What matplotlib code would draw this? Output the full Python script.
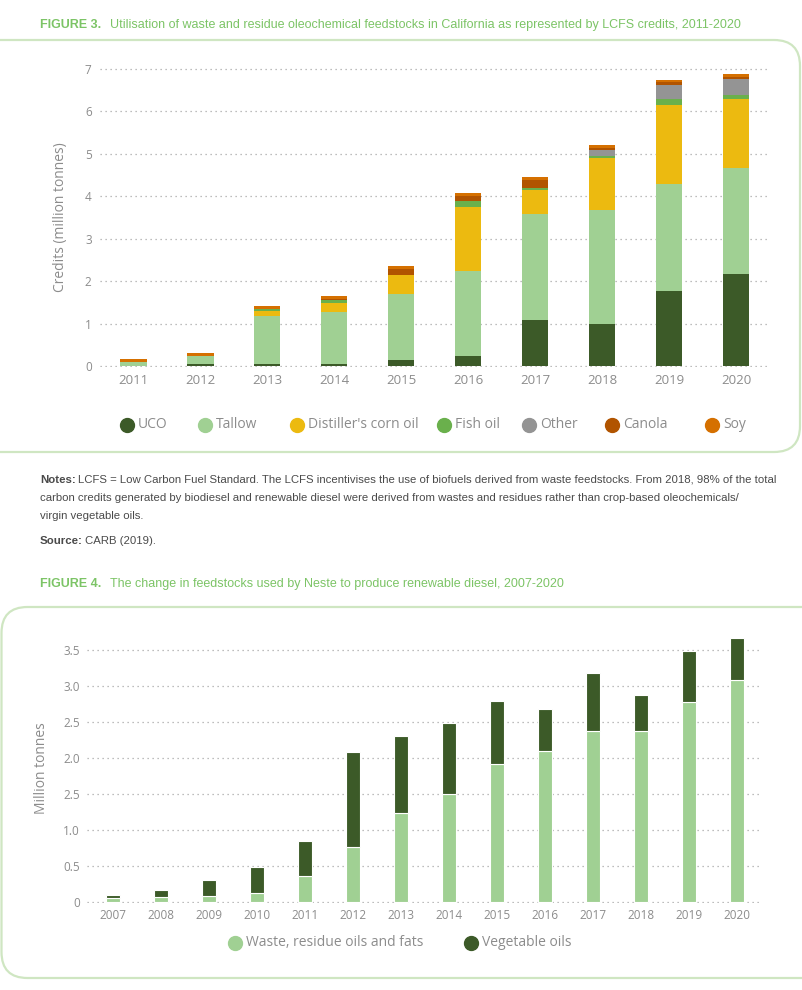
import numpy as np
import matplotlib
matplotlib.use('Agg')
from matplotlib import pyplot as plt
from matplotlib.patches import FancyBboxPatch

# Figure 3 data: LCFS credits by feedstock (million tonnes)
years3 = ['2011', '2012', '2013', '2014', '2015', '2016', '2017', '2018', '2019', '2020']
uco = [0.0, 0.04, 0.04, 0.05, 0.14, 0.23, 1.08, 0.98, 1.78, 2.16]
tallow = [0.09, 0.19, 1.13, 1.22, 1.55, 2.02, 2.51, 2.70, 2.51, 2.50]
corn = [0.0, 0.0, 0.13, 0.22, 0.46, 1.51, 0.56, 1.22, 1.87, 1.64]
fish = [0.0, 0.0, 0.04, 0.06, 0.0, 0.14, 0.05, 0.04, 0.14, 0.10]
other = [0.0, 0.0, 0.0, 0.0, 0.0, 0.0, 0.0, 0.15, 0.33, 0.37]
canola = [0.0, 0.0, 0.0, 0.04, 0.14, 0.10, 0.19, 0.04, 0.06, 0.05]
soy = [0.07, 0.07, 0.07, 0.07, 0.07, 0.07, 0.07, 0.07, 0.06, 0.07]
labels3 = ['UCO', 'Tallow', "Distiller's corn oil", 'Fish oil', 'Other', 'Canola', 'Soy']

# Figure 4 data: Neste feedstocks (million tonnes)
years4 = ['2007', '2008', '2009', '2010', '2011', '2012', '2013',
          '2014', '2015', '2016', '2017', '2018', '2019', '2020']
waste = [0.05, 0.07, 0.08, 0.13, 0.36, 0.77, 1.24, 1.50, 1.92, 2.10, 2.38, 2.38, 2.78, 3.08]
veg = [0.04, 0.09, 0.23, 0.36, 0.49, 1.32, 1.06, 0.98, 0.87, 0.58, 0.80, 0.49, 0.71, 0.59]
labels4 = ['Waste, residue oils and fats', 'Vegetable oils']
yticklabels4 = ['0', '0.5', '1.0', '2.5', '2.0', '2.5', '3.0', '3.5']

colors3 = ['#3c5a28', '#a0d093', '#ecba10', '#6ab04c', '#949494', '#b15400', '#d57000']
colors4 = ['#a0d093', '#3c5a28']
GREEN_TITLE = '#7cc466'
GRAY = '#8c8c8c'
BOX = '#cfe6c2'

plt.rcParams['font.family'] = ['Open Sans', 'DejaVu Sans']
NARROW = ['Liberation Sans', 'DejaVu Sans']

fig = plt.figure(figsize=(8.02, 9.9), dpi=100)

# background layer in pixel coordinates for the rounded frames
bg = fig.add_axes([0, 0, 1, 1], zorder=-5)
bg.set_xlim(0, 802)
bg.set_ylim(990, 0)
bg.axis('off')
bg.add_patch(FancyBboxPatch((-40, 40), 840, 412, boxstyle='round,pad=0,rounding_size=26',
                            fill=False, ec=BOX, lw=1.6))
bg.add_patch(FancyBboxPatch((1.5, 607), 840, 371, boxstyle='round,pad=0,rounding_size=26',
                            fill=False, ec=BOX, lw=1.6))


def style_axes(ax):
    for s in ax.spines.values():
        s.set_visible(False)
    ax.tick_params(length=0, colors=GRAY)
    ax.yaxis.grid(True, linestyle=(0, (1, 3)), color='#a8a8a8', lw=0.9)
    ax.set_axisbelow(True)


# ---- Figure 3 ----
ax1 = fig.add_axes([0.1247, 0.6294, 0.835, 0.303])
x3 = np.arange(len(years3))
bottom = np.zeros(len(years3))
for vals, c in zip([uco, tallow, corn, fish, other, canola, soy], colors3):
    ax1.bar(x3, vals, 0.39, bottom=bottom, color=c, lw=0)
    bottom += np.array(vals)
style_axes(ax1)
ax1.set_xlim(-0.5, 9.5)
ax1.set_ylim(-0.02, 7.05)
ax1.set_yticks(range(8))
ax1.set_xticks(x3)
ax1.set_xticklabels(years3, fontsize=9.5, color=GRAY)
ax1.tick_params(axis='y', labelsize=8.5, pad=6)
ax1.tick_params(axis='x', pad=5)
ax1.set_ylabel('Credits (million tonnes)', fontsize=10, color=GRAY, labelpad=12)

# legend for figure 3
leg_x = [127, 205, 297, 444, 529, 612, 712]
for lx, lab, c in zip(leg_x, labels3, colors3):
    bg.plot(lx, 425, 'o', ms=10, color=c)
    bg.text(lx + 11, 425, lab, fontsize=10, color=GRAY, va='center', ha='left')

# ---- Figure 4 ----
ax2 = fig.add_axes([0.1085, 0.0875, 0.8415, 0.274])
x4 = np.arange(len(years4))
ax2.bar(x4, waste, 0.3, color=colors4[0], edgecolor='white', lw=0.8)
ax2.bar(x4, veg, 0.3, bottom=waste, color=colors4[1], edgecolor='white', lw=0.8)
style_axes(ax2)
ax2.set_xlim(-0.54, 13.52)
ax2.set_ylim(-0.02, 3.75)
ax2.set_yticks(np.arange(0, 3.6, 0.5))
ax2.set_yticklabels(yticklabels4)
ax2.set_xticks(x4)
ax2.set_xticklabels(years4, fontsize=8.5, color=GRAY)
ax2.tick_params(axis='y', labelsize=8.5, pad=5)
ax2.tick_params(axis='x', pad=4)
ax2.set_ylabel('Million tonnes', fontsize=10, color=GRAY, labelpad=10)

for lx, lab, c in zip([235, 471], labels4, colors4):
    bg.plot(lx, 943, 'o', ms=10, color=c)
    bg.text(lx + 11, 943, lab, fontsize=10, color=GRAY, va='center', ha='left')

# ---- titles and notes ----
renderer = fig.canvas.get_renderer()


def two_part(x, y, bold, rest, size, color, gap=4):
    t = bg.text(x, y, bold, fontsize=size, fontweight='bold', color=color,
                va='center', ha='left', family=NARROW)
    w = t.get_window_extent(renderer).width
    bg.text(x + w + gap, y, rest, fontsize=size, color=color, va='center', ha='left', family=NARROW)


two_part(40, 25, 'FIGURE 3.', 'Utilisation of waste and residue oleochemical feedstocks in California '
         'as represented by LCFS credits, 2011-2020', 9, GREEN_TITLE, gap=9)
two_part(40, 584, 'FIGURE 4.', 'The change in feedstocks used by Neste to produce renewable diesel, 2007-2020',
         9, GREEN_TITLE, gap=9)

note_col = '#4a4a4a'
note_size = 8.2
two_part(40, 480, 'Notes:', 'LCFS = Low Carbon Fuel Standard. The LCFS incentivises the use of biofuels derived '
         'from waste feedstocks. From 2018, 98% of the total', note_size, note_col, gap=2)
bg.text(40, 498, 'carbon credits generated by biodiesel and renewable diesel were derived from wastes and '
        'residues rather than crop-based oleochemicals/', fontsize=note_size, color=note_col,
        va='center', family=NARROW)
bg.text(40, 516, 'virgin vegetable oils.', fontsize=note_size, color=note_col, va='center', family=NARROW)
two_part(40, 541, 'Source:', 'CARB (2019).', note_size, note_col, gap=2)

fig.savefig('out.png', dpi=100)
